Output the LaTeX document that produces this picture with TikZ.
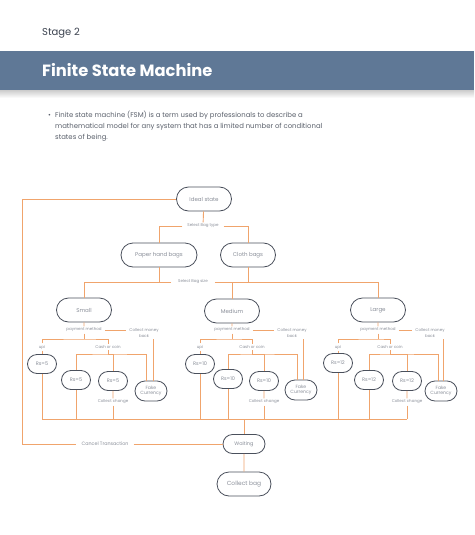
\documentclass[tikz,border=0pt]{standalone}
\usepackage{fontspec}
\setmainfont{Poppins}
\usepackage{tikz}
\usetikzlibrary{positioning,shapes.misc,calc}
\definecolor{banner}{HTML}{5F7896}
\definecolor{flowline}{HTML}{F0A46C}
\definecolor{edge}{HTML}{4A505C}
\definecolor{ink}{HTML}{8A8F99}
\definecolor{heading}{HTML}{3C4350}
\definecolor{body}{HTML}{5A606B}

\begin{document}
\begin{tikzpicture}[x=1pt, y=-1pt,
    bagstate/.style={rounded rectangle, draw=edge, line width=0.8pt, text=ink, font=\fontsize{5.5}{6.5}\selectfont, minimum width=57pt, minimum height=24pt, inner sep=1pt},
    price/.style={bagstate, minimum width=31pt, minimum height=19pt, font=\fontsize{5}{6}\selectfont},
    fake/.style={price, minimum width=34pt, minimum height=20pt, align=center, font=\fontsize{4.6}{5.6}\selectfont},
    cond/.style={text=ink, font=\fontsize{4}{5.5}\selectfont, inner xsep=3pt, inner ysep=1.5pt, align=center},
    flow/.style={draw=flowline, line width=0.9pt}
]
    \fill[white] (0,0) rectangle (474,535);
    \useasboundingbox (0,0) rectangle (474,535);

    % Header
    \shade[top color=gray!40, bottom color=white] (0,90) rectangle (474,98);
    \fill[banner] (0,51) rectangle (474,90);
    \node[anchor=west, text=heading, font=\fontsize{10}{12}\selectfont, inner sep=0pt] (stage) at (42,33) {Stage 2};
    \node[anchor=west, text=white, font=\fontsize{16.3}{19}\selectfont\bfseries, inner sep=0pt] (title) at (42,70) {Finite State Machine};
    \node[text=body, font=\fontsize{6.9}{11}\selectfont, inner sep=0pt] (dot) at (49.5,115.5) {•};
    \node[anchor=north west, text=body, font=\fontsize{6.9}{11}\selectfont, align=left, inner sep=0pt] (intro) at (55,110.5)
        {Finite state machine (FSM) is a term used by professionals to describe a\\
         mathematical model for any system that has a limited number of conditional\\
         states of being.};

    % Bag choice
    \node[bagstate] (ideal) at (204,199) {Ideal state};
    \node[bagstate, minimum width=78pt] (paper) at (159,255) {Paper hand bags};
    \node[bagstate] (cloth) at (248,255) {Cloth bags};
    \node[cond, inner xsep=5pt] (bagtype) at (203,226) {Select Bag type};
    \node[cond, inner xsep=7pt] (bagsize) at (193,282) {Select Bag size};

    % Bag sizes
    \node[bagstate] (small) at (84,310) {Small};
    \node[bagstate] (medium) at (232,311) {Medium};
    \node[bagstate] (large) at (378,310) {Large};

    % Small bags
    \node[cond] (pmS) at (84,330) {payment method};
    \node[cond] (cmbS) at (144,333) {Collect money\\back};
    \node[cond] (upiS) at (42,347) {upi};
    \node[cond] (cashS) at (108,347) {Cash or coin};
    \node[price] (rsaS) at (42,364) {Rs=5};
    \node[price] (rsbS) at (76,380) {Rs=5};
    \node[price] (rscS) at (113,381) {Rs=5};
    \node[fake] (fakeS) at (151,391) {Fake\\Currency};
    \node[cond] (ccS) at (113,402) {Collect change};
    \coordinate (barS) at (108,354);

    % Medium bags
    \node[cond] (pmM) at (232,330) {payment method};
    \node[cond] (cmbM) at (292,333) {Collect money\\back};
    \node[cond] (upiM) at (200,347) {upi};
    \node[cond] (cashM) at (252,347) {Cash or coin};
    \node[price] (rsaM) at (200,364) {Rs=10};
    \node[price] (rsbM) at (228,379) {Rs=10};
    \node[price] (rscM) at (264,381) {Rs=10};
    \node[fake] (fakeM) at (301,390) {Fake\\Currency};
    \node[cond] (ccM) at (264,402) {Collect change};
    \coordinate (barM) at (252,354);

    % Large bags
    \node[cond] (pmL) at (378,330) {payment method};
    \node[cond] (cmbL) at (430,333) {Collect money\\back};
    \node[cond] (upiL) at (338,347) {upi};
    \node[cond] (cashL) at (390,347) {Cash or coin};
    \node[price] (rsaL) at (338,363) {Rs=12};
    \node[price] (rsbL) at (369,380) {Rs=12};
    \node[price] (rscL) at (407,381) {Rs=12};
    \node[fake] (fakeL) at (441,391) {Fake\\Currency};
    \node[cond] (ccL) at (407,402) {Collect change};
    \coordinate (barL) at (390,354);

    % End of transaction
    \node[bagstate, minimum width=44pt, minimum height=19pt, font=\fontsize{5}{6}\selectfont] (waiting) at (244,444) {Waiting};
    \node[bagstate, minimum width=56pt, font=\fontsize{5.9}{7}\selectfont] (collect) at (244,484) {Collect bag};
    \node[cond, font=\fontsize{4.8}{6}\selectfont, inner xsep=5pt] (cancel) at (105,444) {Cancel Transaction};
    \coordinate (bus) at (244,419);
    \coordinate (loopA) at (22,199);
    \coordinate (loopB) at (22,444);

    % Connections
    \draw[flow] (ideal) -- (bagtype);
    \draw[flow] (bagtype.west) -| (paper);
    \draw[flow] (bagtype.east) -| (cloth);
    \draw[flow] (paper) -- (paper |- bagsize);
    \draw[flow] (cloth) -- (cloth |- bagsize);
    \draw[flow] (medium) -- (medium |- bagsize);
    \draw[flow] (bagsize.west) -| (small);
    \draw[flow] (bagsize.east) -| (large);

    \draw[flow] (small) -- (pmS);
    \draw[flow] (pmS) -- ++(0,9) coordinate (forkS);
    \draw[flow] (upiS) |- (forkS) -| (cashS);
    \draw[flow] (upiS) -- (rsaS);
    \draw[flow] (cashS) -- (barS);
    \draw[flow] (rsbS) |- (barS) -| ($(fakeS.north)+(-5,0)$);
    \draw[flow] (rscS) |- (barS);
    \draw[flow] (pmS.east) -- (pmS.east -| cmbS.west);
    \draw[flow] ($(fakeS.north)+(2,0)$) coordinate (backS) -- (backS |- cmbS.south);
    \draw[flow] (rscS) -- (ccS);

    \draw[flow] (medium) -- (pmM);
    \draw[flow] (pmM) -- ++(0,9) coordinate (forkM);
    \draw[flow] (upiM) |- (forkM) -| (cashM);
    \draw[flow] (upiM) -- (rsaM);
    \draw[flow] (cashM) -- (barM);
    \draw[flow] (rsbM) |- (barM) -| ($(fakeM.north)+(-4,0)$);
    \draw[flow] (rscM) |- (barM);
    \draw[flow] (pmM.east) -- (pmM.east -| cmbM.west);
    \draw[flow] ($(fakeM.north)+(2,0)$) coordinate (backM) -- (backM |- cmbM.south);
    \draw[flow] (rscM) -- (ccM);

    \draw[flow] (large) -- (pmL);
    \draw[flow] (pmL) -- ++(0,9) coordinate (forkL);
    \draw[flow] (upiL) |- (forkL) -| (cashL);
    \draw[flow] (upiL) -- (rsaL);
    \draw[flow] (cashL) -- (barL);
    \draw[flow] (rsbL) |- (barL) -| ($(fakeL.north)+(-3,0)$);
    \draw[flow] (rscL) |- (barL);
    \draw[flow] (pmL.east) -- (pmL.east -| cmbL.west);
    \draw[flow] ($(fakeL.north)+(2,0)$) coordinate (backL) -- (backL |- cmbL.south);
    \draw[flow] (rscL) -- (ccL);

    \draw[flow] (rsaS) -- (rsaS |- bus);
    \draw[flow] (rsbS) -- (rsbS |- bus);
    \draw[flow] (ccS) -- (ccS |- bus);
    \draw[flow] (rsaM) -- (rsaM |- bus);
    \draw[flow] (rsbM) -- (rsbM |- bus);
    \draw[flow] (ccM) -- (ccM |- bus);
    \draw[flow] (rsaL) -- (rsaL |- bus);
    \draw[flow] (rsbL) -- (rsbL |- bus);
    \draw[flow] (ccL) -- (ccL |- bus);
    \draw[flow] (rsaS |- bus) -- (ccL |- bus);
    \draw[flow] (bus) -- (waiting);
    \draw[flow] (waiting) -- (collect);
    \draw[flow] (ideal.west) -- (loopA) -- (loopB) -- (cancel);
    \draw[flow] (cancel) -- (waiting);
\end{tikzpicture}
\end{document}
